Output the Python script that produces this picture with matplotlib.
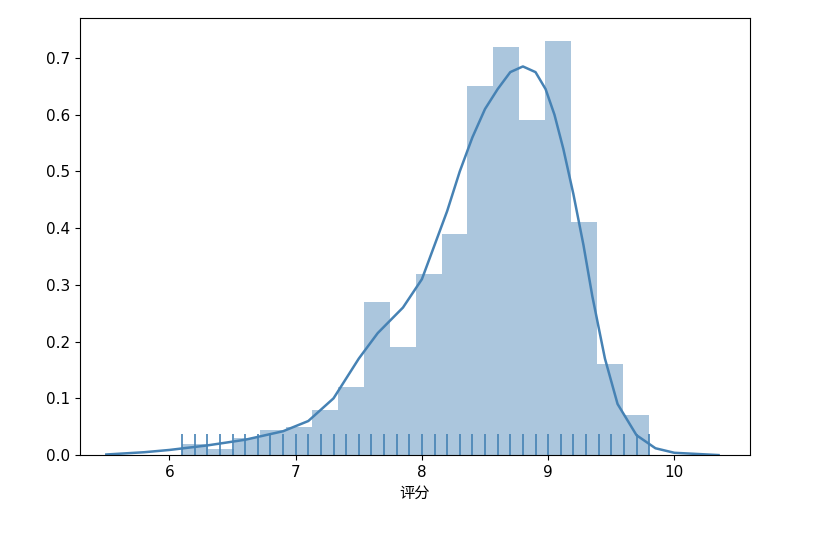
import matplotlib
matplotlib.use('Agg')
import matplotlib.pyplot as plt
import numpy as np

plt.rcParams['font.family'] = ['DejaVu Sans', 'Noto Sans CJK SC']

# histogram bins (density)
bin_start, bin_end, n_bins = 6.1, 9.8, 18
heights = [0.02, 0.01, 0.03, 0.045, 0.05, 0.08, 0.12, 0.27, 0.19,
           0.32, 0.39, 0.65, 0.72, 0.59, 0.73, 0.41, 0.16, 0.07]

# kde curve
kde_x = [5.5, 5.8, 6.0, 6.3, 6.6, 6.9, 7.1, 7.3, 7.5, 7.65, 7.85, 8.0, 8.1, 8.2,
         8.3, 8.4, 8.5, 8.6, 8.7, 8.8, 8.9, 8.98, 9.05, 9.12, 9.2, 9.28, 9.35,
         9.45, 9.55, 9.7, 9.85, 10.0, 10.35]
kde_y = [0.001, 0.005, 0.009, 0.017, 0.027, 0.042, 0.06, 0.1, 0.17, 0.215,
         0.26, 0.31, 0.37, 0.43, 0.5, 0.56, 0.61, 0.645, 0.675, 0.685, 0.675,
         0.645, 0.6, 0.54, 0.46, 0.37, 0.28, 0.17, 0.09, 0.035, 0.012, 0.004, 0.0]

# rug values (ratings)
rug = np.round(np.arange(6.1, 9.81, 0.1), 1)

color = '#4682b4'
fig = plt.figure(figsize=(8.4, 5.36), dpi=100)
ax = fig.add_axes([0.095, 0.151, 0.798, 0.815])

edges = np.linspace(bin_start, bin_end, n_bins + 1)
ax.bar(edges[:-1], heights, width=np.diff(edges), align='edge',
       color=color, alpha=0.45, edgecolor='none')
ax.plot(kde_x, kde_y, color=color, linewidth=1.8)
ax.vlines(rug, 0, 0.038, color=color, linewidth=1.2)

ax.set_xlim(5.29, 10.6)
ax.set_ylim(0, 0.77)
ax.set_yticks(np.arange(0, 0.71, 0.1))
ax.set_xlabel('评分', fontsize=11)
ax.tick_params(labelsize=11)

fig.savefig('out.png')
